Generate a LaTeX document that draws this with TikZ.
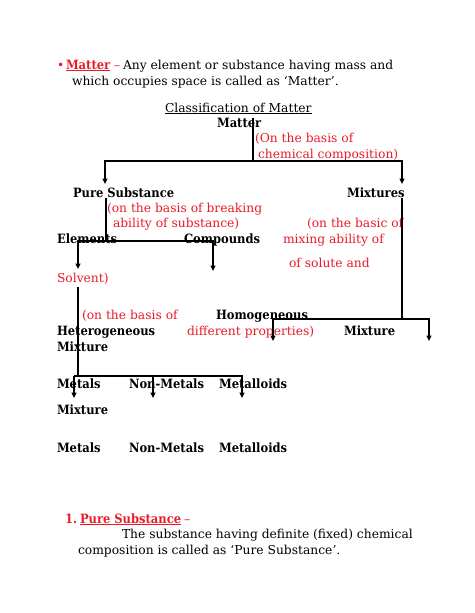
\documentclass[tikz,border=0pt]{standalone}
\usepackage{fontspec}
\setmainfont{DejaVu Serif}
\newfontfamily\condfont{DejaVu Serif Condensed}
\usetikzlibrary{arrows.meta}
\definecolor{myred}{RGB}{232,28,40}
\begin{document}
\begin{tikzpicture}[x=1pt,y=-1pt,
  txt/.style={anchor=base west,inner sep=0pt,outer sep=0pt,font=\fontsize{12.3}{14}\selectfont},
  bld/.style={anchor=base west,inner sep=0pt,outer sep=0pt,font=\condfont\fontsize{12.8}{14}\selectfont\bfseries},
  rd/.style={txt,text=myred},
  rdb/.style={bld,text=myred},
  ln/.style={line width=1.6pt},
  arr/.style={ln,-{Triangle[length=5.5pt,width=5pt]}}]
\fill[white] (0,0) rectangle (474,613);
\useasboundingbox (0,0) rectangle (474,613);
% header
\node[rd] (bul) at (57,69) {•};
\node[rdb] (mat) at (66,69) {\underline{Matter}};
\node[rd] (dsh) at (114,69) {–};
\node[txt] (def1) at (123,69) {Any element or substance having mass and};
\node[txt] (def2) at (72,85) {which occupies space is called as ‘Matter’.};
\node[txt] (cls) at (165,112) {\underline{Classification of Matter}};
\node[bld] (matter) at (217,127) {Matter};
\node[rd] (r1) at (255,142) {(On the basis of};
\node[rd] (r2) at (258,158) {chemical composition)};
% level 2
\node[bld] (pure) at (73,197) {Pure Substance};
\node[bld] (mix) at (347,197) {Mixtures};
\node[rd] (r3) at (107,212) {(on the basis of breaking};
\node[rd] (r4) at (113,227) {ability of substance)};
\node[rd] (r5) at (307,227) {(on the basic of};
\node[rd] (r6) at (283,243) {mixing ability of};
\node[bld] (elem) at (57,243) {Elements};
\node[bld] (comp) at (184,243) {Compounds};
\node[rd] (r7) at (289,267) {of solute and};
\node[rd] (r8) at (57,282) {Solvent)};
\node[rd] (r9) at (82,319) {(on the basis of};
\node[bld] (homo) at (216,319) {Homogeneous};
\node[bld] (het) at (57,335) {Heterogeneous};
\node[rd] (r10) at (187,335) {different properties)};
\node[bld] (mix2) at (344,335) {Mixture};
\node[bld] (mix3) at (57,351) {Mixture};
\node[bld] (met1) at (57,388) {Metals};
\node[bld] (non1) at (129,388) {Non-Metals};
\node[bld] (mtd1) at (219,388) {Metalloids};
\node[bld] (mix4) at (57,414) {Mixture};
\node[bld] (met2) at (57,452) {Metals};
\node[bld] (non2) at (129,452) {Non-Metals};
\node[bld] (mtd2) at (219,452) {Metalloids};
% footer
\node[rdb] (ps1) at (65,523) {1.};
\node[rdb] (ps2) at (80,523) {\underline{Pure Substance}};
\node[rd] (ps3) at (184,523) {–};
\node[txt] (ps4) at (122,538) {The substance having definite (fixed) chemical};
\node[txt] (ps5) at (78,554) {composition is called as ‘Pure Substance’.};
% coordinates
\coordinate (mtop) at (253,118);
\coordinate (jm) at (253,161);
\coordinate (aL) at (105,184);
\coordinate (aR) at (402,184);
\coordinate (pbot) at (106,198);
\coordinate (jp) at (106,241);
\coordinate (aE) at (78,269);
\coordinate (aC) at (213,271);
\coordinate (xbot) at (402,198);
\coordinate (jx) at (402,319);
\coordinate (aHo) at (273,341);
\coordinate (aHe) at (429,341);
\coordinate (ltop) at (78,287);
\coordinate (jl) at (78,376);
\coordinate (jl0) at (74,376);
\coordinate (jlm) at (153,376);
\coordinate (aM1) at (74,398);
\coordinate (aM2) at (153,398);
\coordinate (aM3) at (242,398);
% connectors
\draw[ln] (mtop) -- (jm);
\draw[arr] (jm) -| (aL);
\draw[arr] (jm) -| (aR);
\draw[ln] (pbot) -- (jp);
\draw[arr] (jp) -| (aE);
\draw[arr] (jp) -| (aC);
\draw[ln] (xbot) -- (jx);
\draw[arr] (jx) -| (aHo);
\draw[arr] (jx) -| (aHe);
\draw[ln] (ltop) -- (jl);
\draw[arr] (jl0) -| (aM3);
\draw[arr] (jl0) -- (aM1);
\draw[arr] (jlm) -- (aM2);
\end{tikzpicture}
\end{document}
